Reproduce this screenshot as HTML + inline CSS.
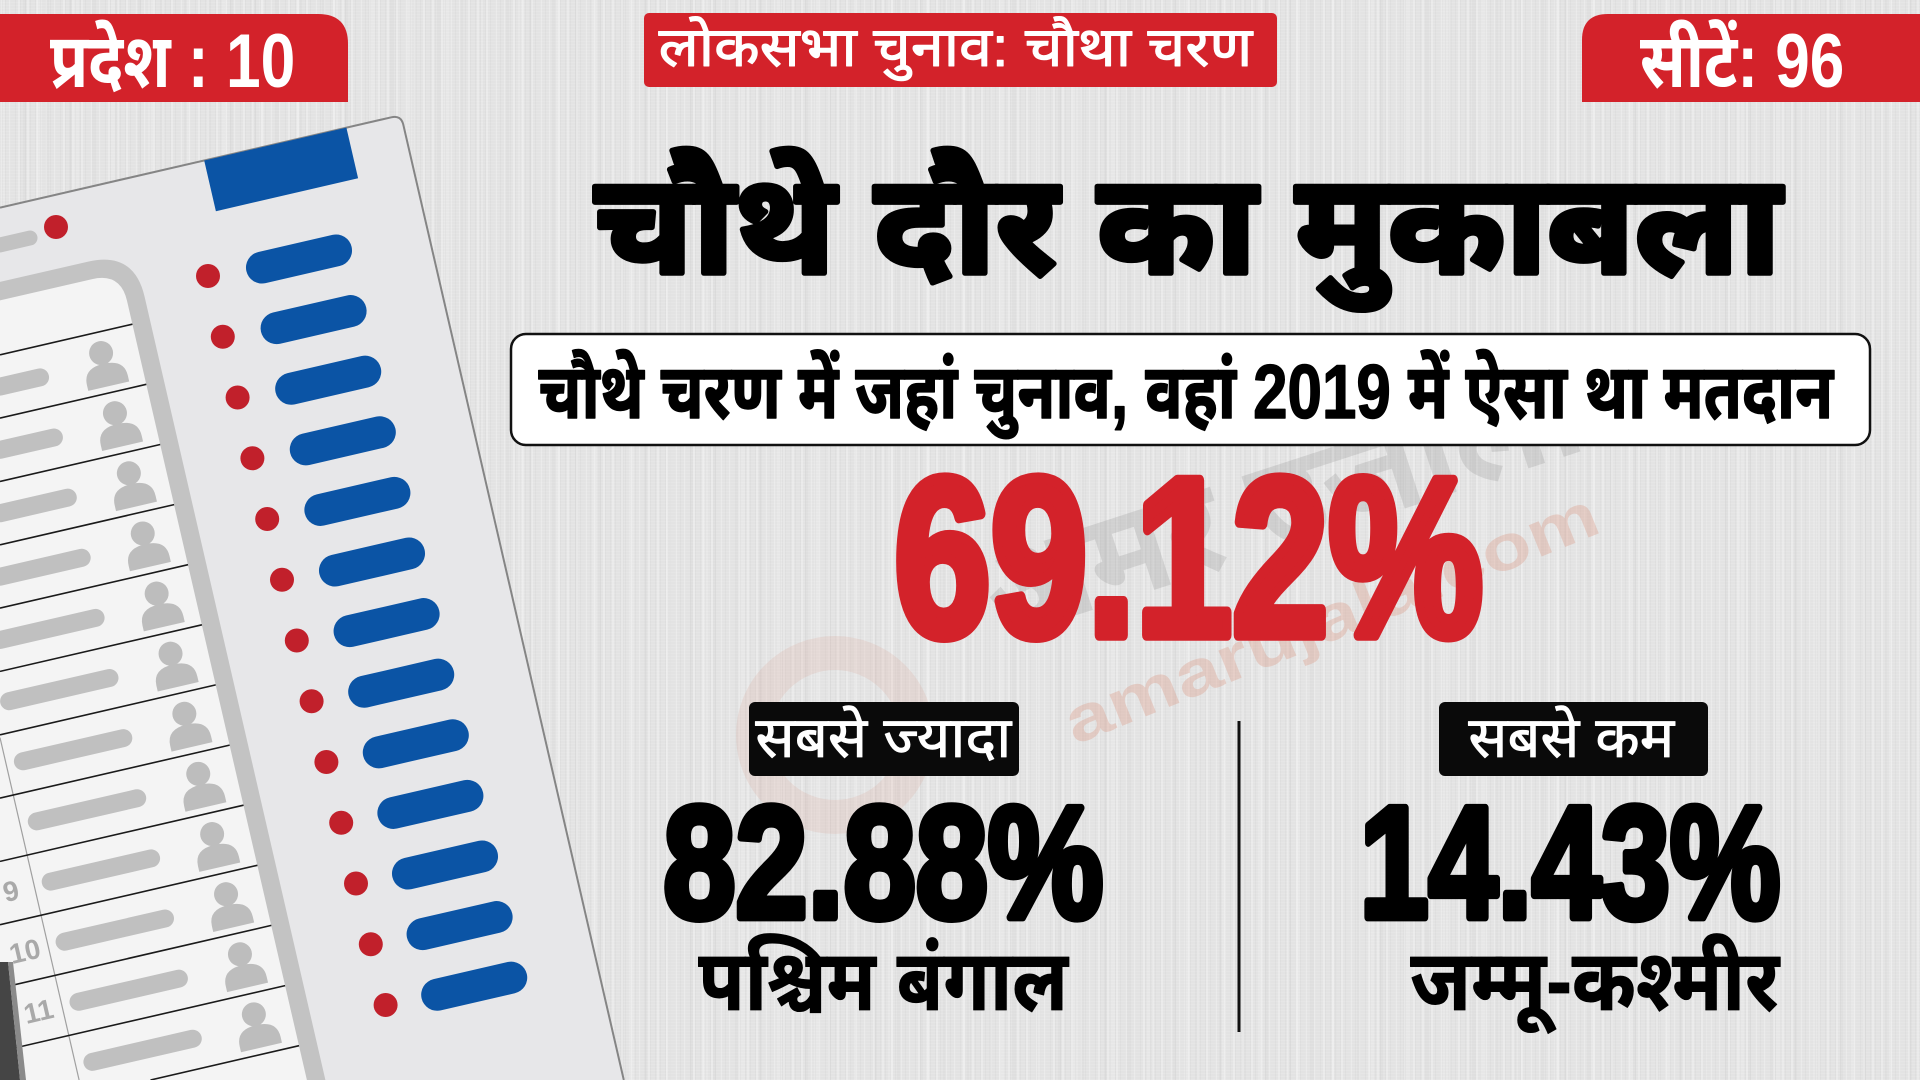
<!DOCTYPE html>
<html lang="hi">
<head>
<meta charset="utf-8">
<title>चौथे दौर का मुकाबला</title>
<style>
  html, body { margin: 0; padding: 0; width: 1920px; height: 1080px; overflow: hidden; }
  body {
    position: relative;
    background-color: #e3e3e3;
    background-image:
      repeating-linear-gradient(90deg, rgba(0,0,0,0.025) 0 1px, transparent 1px 5px),
      repeating-linear-gradient(90deg, rgba(255,255,255,0.25) 0 2px, transparent 2px 9px),
      repeating-linear-gradient(90deg, rgba(0,0,0,0.02) 0 3px, transparent 3px 23px),
      repeating-linear-gradient(90deg, rgba(255,255,255,0.15) 0 5px, transparent 5px 37px),
      repeating-linear-gradient(0deg, rgba(255,255,255,0.10) 0 1px, transparent 1px 3px);
  }
  svg { position: absolute; left: 0; top: 0; display: block; overflow: hidden; }
  .dev { font-family: "Liberation Sans", "Noto Sans Devanagari", "Lohit Devanagari", "Lohit Hindi", "Mukta", "Hind", "Kalimati", "FreeSans", "Mangal", "Nirmala UI", sans-serif; }
  .b { font-weight: bold; }
  .m { font-weight: normal; }
  .num { font-family: "Liberation Sans Narrow", "Liberation Sans", sans-serif; font-weight: bold; }
</style>
</head>
<body>
<svg width="1920" height="1080" viewBox="0 0 1920 1080" xmlns="http://www.w3.org/2000/svg">
  <defs>
    <g id="person">
      <circle cx="0" cy="-10" r="12"/>
      <path d="M-21,24 L-21,18 Q-21,1 0,1 Q21,1 21,18 L21,24 Z"/>
    </g>
  </defs>

  <!-- ===== EVM panel ===== -->
  <path d="M0,207.6 L391.3,117.3 Q401,115 403.3,124.7 L623.8,1080 L0,1080 Z" fill="#e7e7e9"/>
  <path d="M0,207.6 L391.3,117.3 Q401,115 403.3,124.7 L623.8,1080" fill="none" stroke="#858585" stroke-width="2"/>
  <polygon points="204.2,160.5 346.4,127.6 358.1,178.3 215.9,211.2" fill="#0b54a5"/>

  <!-- small gray bar + lone dot near top -->
  <line x1="0" y1="245" x2="30" y2="238" stroke="#c2c2c2" stroke-width="15" stroke-linecap="round"/>
  <circle cx="56" cy="227" r="12" fill="#c1202b"/>

  <!-- screen border + fill -->
  <path d="M0,281.9 L88.2,261.6 Q134,251 144.6,296.8 L325.4,1080 L0,1080 Z" fill="#c3c3c3"/>
  <path d="M0,300.4 L92.25,279.1 Q120.5,272.6 127.0,300.8 L306.9,1080 L0,1080 Z" fill="#f4f4f4"/>

  <!-- number column divider -->
  <line x1="0" y1="737.6" x2="79.1" y2="1080" stroke="#a0a0a0" stroke-width="1.2"/>

  <!-- row lines -->
  <g stroke="#1a1a1a" stroke-width="1.6">
    <line x1="0" y1="354.8" x2="132.4" y2="324.2"/>
    <line x1="0" y1="418.1" x2="146.3" y2="384.3"/>
    <line x1="0" y1="481.5" x2="160.2" y2="444.5"/>
    <line x1="0" y1="544.8" x2="174.1" y2="504.6"/>
    <line x1="0" y1="608.1" x2="188.0" y2="564.7"/>
    <line x1="0" y1="671.4" x2="201.9" y2="624.8"/>
    <line x1="0" y1="734.8" x2="215.7" y2="684.9"/>
    <line x1="0" y1="798.1" x2="229.6" y2="745.1"/>
    <line x1="0" y1="861.4" x2="243.5" y2="805.2"/>
    <line x1="0" y1="924.7" x2="257.4" y2="865.3"/>
    <line x1="0" y1="988.1" x2="271.3" y2="925.4"/>
    <line x1="0" y1="1051.4" x2="285.1" y2="985.6"/>
    <line x1="150.5" y1="1080" x2="299.0" y2="1045.7"/>
  </g>

  <!-- gray name bars -->
  <g stroke="#c0c0c0" stroke-width="18" stroke-linecap="round">
    <line x1="0" y1="386.6" x2="40.05" y2="377.4"/>
    <line x1="0" y1="449.9" x2="53.9" y2="437.5"/>
    <line x1="0" y1="513.3" x2="67.8" y2="497.6"/>
    <line x1="0" y1="576.7" x2="81.7" y2="557.8"/>
    <line x1="0" y1="640.0" x2="95.6" y2="617.9"/>
    <line x1="9.1" y1="701.2" x2="109.5" y2="678.0"/>
    <line x1="22.9" y1="761.3" x2="123.3" y2="738.1"/>
    <line x1="36.8" y1="821.4" x2="137.2" y2="798.2"/>
    <line x1="50.7" y1="881.6" x2="151.1" y2="858.4"/>
    <line x1="64.6" y1="941.7" x2="165.0" y2="918.5"/>
    <line x1="78.5" y1="1001.8" x2="178.9" y2="978.6"/>
    <line x1="92.4" y1="1061.9" x2="192.8" y2="1038.7"/>
  </g>

  <!-- person icons -->
  <g fill="#bdbdbd">
    <use href="#person" transform="translate(103.35,362.8) rotate(-13)"/>
    <use href="#person" transform="translate(117.2,422.9) rotate(-13)"/>
    <use href="#person" transform="translate(131.1,483.0) rotate(-13)"/>
    <use href="#person" transform="translate(145.0,543.2) rotate(-13)"/>
    <use href="#person" transform="translate(158.9,603.3) rotate(-13)"/>
    <use href="#person" transform="translate(172.8,663.4) rotate(-13)"/>
    <use href="#person" transform="translate(186.6,723.5) rotate(-13)"/>
    <use href="#person" transform="translate(200.5,783.6) rotate(-13)"/>
    <use href="#person" transform="translate(214.4,843.8) rotate(-13)"/>
    <use href="#person" transform="translate(228.3,903.9) rotate(-13)"/>
    <use href="#person" transform="translate(242.2,964.0) rotate(-13)"/>
    <use href="#person" transform="translate(256.1,1024.1) rotate(-13)"/>
  </g>

  <!-- row numbers -->
  <g fill="#a9a9a9" font-family="Liberation Sans, sans-serif" font-weight="bold" font-size="28" text-anchor="middle">
    <text x="0" y="0" transform="translate(13.1,900.5) rotate(-13)">9</text>
    <text x="0" y="0" transform="translate(27.0,960.6) rotate(-13)">10</text>
    <text x="0" y="0" transform="translate(40.8,1020.7) rotate(-13)">11</text>
  </g>

  <!-- dark edge at bottom-left -->
  <polygon points="0,962 8,962 20,1080 0,1080" fill="#454545"/>
  <polygon points="8,962 13,962 26,1080 20,1080" fill="#8a8a8a"/>

  <!-- red dots -->
  <g fill="#c1202b">
    <circle cx="208" cy="276" r="12"/>
    <circle cx="222.8" cy="336.75" r="12"/>
    <circle cx="237.6" cy="397.5" r="12"/>
    <circle cx="252.4" cy="458.25" r="12"/>
    <circle cx="267.2" cy="519" r="12"/>
    <circle cx="282" cy="579.75" r="12"/>
    <circle cx="296.8" cy="640.5" r="12"/>
    <circle cx="311.6" cy="701.25" r="12"/>
    <circle cx="326.4" cy="762" r="12"/>
    <circle cx="341.2" cy="822.75" r="12"/>
    <circle cx="356" cy="883.5" r="12"/>
    <circle cx="370.8" cy="944.25" r="12"/>
    <circle cx="385.6" cy="1005" r="12"/>
  </g>

  <!-- blue pills -->
  <g fill="#0b54a5">
    <rect x="-54" y="-16" width="108" height="32" rx="16" transform="translate(299,259) rotate(-13)"/>
    <rect x="-54" y="-16" width="108" height="32" rx="16" transform="translate(313.6,319.6) rotate(-13)"/>
    <rect x="-54" y="-16" width="108" height="32" rx="16" transform="translate(328.2,380.2) rotate(-13)"/>
    <rect x="-54" y="-16" width="108" height="32" rx="16" transform="translate(342.8,440.8) rotate(-13)"/>
    <rect x="-54" y="-16" width="108" height="32" rx="16" transform="translate(357.4,501.4) rotate(-13)"/>
    <rect x="-54" y="-16" width="108" height="32" rx="16" transform="translate(372,562) rotate(-13)"/>
    <rect x="-54" y="-16" width="108" height="32" rx="16" transform="translate(386.6,622.6) rotate(-13)"/>
    <rect x="-54" y="-16" width="108" height="32" rx="16" transform="translate(401.2,683.2) rotate(-13)"/>
    <rect x="-54" y="-16" width="108" height="32" rx="16" transform="translate(415.8,743.8) rotate(-13)"/>
    <rect x="-54" y="-16" width="108" height="32" rx="16" transform="translate(430.4,804.4) rotate(-13)"/>
    <rect x="-54" y="-16" width="108" height="32" rx="16" transform="translate(445,865) rotate(-13)"/>
    <rect x="-54" y="-16" width="108" height="32" rx="16" transform="translate(459.6,925.6) rotate(-13)"/>
    <rect x="-54" y="-16" width="108" height="32" rx="16" transform="translate(474.2,986.2) rotate(-13)"/>
  </g>

  <!-- ===== watermark ===== -->
  <circle cx="835" cy="735" r="82" fill="none" stroke="#d99a88" stroke-width="34" opacity="0.18"/>
  <text class="dev b" x="0" y="0" font-size="130" fill="#7d7d7d" opacity="0.2"
        transform="translate(1000,640) rotate(-18)" textLength="620" lengthAdjust="spacingAndGlyphs">अमर उजाला</text>
  <text x="0" y="0" font-family="Liberation Sans, sans-serif" font-weight="bold" font-size="64" fill="#dc9a86" opacity="0.35"
        transform="translate(1075,745) rotate(-22)" textLength="570" lengthAdjust="spacingAndGlyphs">amarujala.com</text>

  <!-- ===== top banners ===== -->
  <path d="M0,14 H318 Q348,14 348,44 V102 H0 Z" fill="#d3222a"/>
  <rect x="644" y="13" width="633" height="74" rx="5" fill="#d3222a"/>
  <path d="M1920,14 H1608 Q1582,14 1582,40 V102 H1920 Z" fill="#d3222a"/>

  <rect x="511" y="334" width="1359" height="111" rx="15" fill="#ffffff" stroke="#111111" stroke-width="2.5"/>

  <rect x="749" y="702" width="270" height="74" rx="6" fill="#0a0a0a"/>
  <rect x="1439" y="702" width="269" height="74" rx="6" fill="#0a0a0a"/>

  <rect x="1237.5" y="721" width="3" height="311" fill="#111111"/>

  <!-- ===== texts ===== -->
  <text id="t1" class="dev b" fill="#ffffff" x="50" y="87" font-size="64">प्रदेश : 10</text>
  <text id="t2" class="dev m" fill="#ffffff" x="658" y="66" font-size="48">लोकसभा चुनाव: चौथा चरण</text>
  <text id="t3" class="dev b" fill="#ffffff" x="1640" y="87" font-size="64">सीटें: 96</text>
  <text id="t4" class="dev b" fill="#000000" x="592" y="273" font-size="160">चौथे दौर का मुकाबला</text>
  <text id="t5" class="dev b" fill="#000000" x="538" y="418" font-size="70">चौथे चरण में जहां चुनाव, वहां 2019 में ऐसा था मतदान</text>
  <text id="t6" class="num" fill="#d3222a" x="895" y="643" font-size="235">69.12%</text>
  <text id="t7" class="dev m" fill="#ffffff" x="755" y="757" font-size="52">सबसे ज्यादा</text>
  <text id="t8" class="dev m" fill="#ffffff" x="1468" y="757" font-size="52">सबसे कम</text>
  <text id="t9" class="num" fill="#000000" x="664" y="923" font-size="165">82.88%</text>
  <text id="t10" class="num" fill="#000000" x="1364" y="923" font-size="165">14.43%</text>
  <text id="t11" class="dev b" fill="#000000" x="698" y="1010" font-size="72">पश्चिम बंगाल</text>
  <text id="t12" class="dev b" fill="#000000" x="1410" y="1010" font-size="72">जम्मू-कश्मीर</text>
</svg>

<script>
(function(){
  var cv = document.createElement('canvas');
  var c = cv.getContext('2d');
  function fontFor(el){
    var cs = getComputedStyle(el);
    return cs.fontWeight + ' 100px ' + cs.fontFamily;
  }
  function applyStroke(el, sw){
    if (sw > 0) {
      el.setAttribute('stroke', el.getAttribute('fill'));
      el.setAttribute('stroke-width', sw);
      el.setAttribute('stroke-linejoin', 'round');
    }
  }
  function fitDev(id, x0, x1, ht, bl, sw){
    var el = document.getElementById(id); if(!el) return;
    c.font = fontFor(el);
    var m = c.measureText(el.textContent);
    var k = c.measureText('\u0915');
    var asc = k.actualBoundingBoxAscent;
    var w = m.actualBoundingBoxLeft + m.actualBoundingBoxRight + sw;
    if (!(w > 0) || !(asc > 0)) return;
    var sx = (x1 - x0) / w, sy = (bl - ht) / (asc + sw/2);
    el.setAttribute('x', 0); el.setAttribute('y', 0); el.setAttribute('font-size', 100);
    applyStroke(el, sw);
    el.setAttribute('transform', 'translate(' + (x0 + sx*(m.actualBoundingBoxLeft + sw/2)) + ',' + bl + ') scale(' + sx + ',' + sy + ')');
  }
  function fitBox(id, x0, y0, x1, y1, sw){
    var el = document.getElementById(id); if(!el) return;
    c.font = fontFor(el);
    var m = c.measureText(el.textContent);
    var w = m.actualBoundingBoxLeft + m.actualBoundingBoxRight + sw;
    var h = m.actualBoundingBoxAscent + m.actualBoundingBoxDescent + sw;
    if (!(w > 0) || !(h > 0)) return;
    var sx = (x1 - x0) / w, sy = (y1 - y0) / h;
    el.setAttribute('x', 0); el.setAttribute('y', 0); el.setAttribute('font-size', 100);
    applyStroke(el, sw);
    el.setAttribute('transform', 'translate(' + (x0 + sx*(m.actualBoundingBoxLeft + sw/2)) + ',' + (y0 + sy*(m.actualBoundingBoxAscent + sw/2)) + ') scale(' + sx + ',' + sy + ')');
  }
  fitDev('t1', 50, 293, 40, 87, 0);
  fitDev('t2', 658, 1254, 31, 66, 2);
  fitDev('t3', 1640, 1842, 40, 87, 0);
  fitDev('t4', 592, 1786, 184, 273, 4);
  fitDev('t5', 538, 1835, 370, 418, 2);
  fitBox('t6', 895, 472, 1484, 643, 5);
  fitDev('t7', 755, 1013, 721, 757, 1.5);
  fitDev('t8', 1468, 1676, 721, 757, 1.5);
  fitBox('t9', 664, 802, 1104, 923, 5);
  fitBox('t10', 1364, 802, 1781, 923, 5);
  fitDev('t11', 698, 1070, 957, 1010, 1);
  fitDev('t12', 1410, 1781, 957, 1010, 1);
})();
</script>
</body>
</html>
